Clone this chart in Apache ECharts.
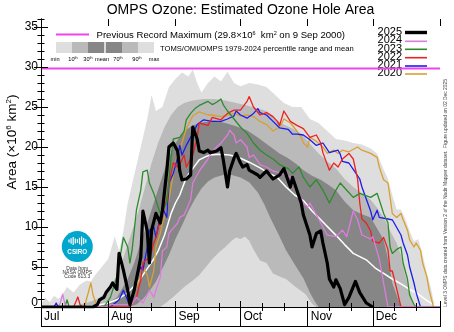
<!DOCTYPE html>
<html>
<head>
<meta charset="utf-8">
<script src="https://cdn.jsdelivr.net/npm/echarts@6/dist/echarts.min.js"></script>
<style>
  html, body { margin: 0; padding: 0; background: #fff; }
  #chart { width: 454px; height: 332px; }
</style>
</head>
<body>
<div id="chart"></div>
<script>
// Day 0 = 1 July; the season axis runs to 31 December.
const monthNames = ['Jul', 'Aug', 'Sep', 'Oct', 'Nov', 'Dec'];
const monthStartDays = [0, 31, 62, 92, 123, 153];
const seasonEndDay = 184;
const yTickValues = [0, 5, 10, 15, 20, 25, 30, 35];
const recordMax = 29.8; // 9 Sep 2000

// TOMS/OMI/OMPS 1979-2024 climatology, [day, area in 10^6 km^2]
const bandMax = [[0,0.3],[2,1.2],[4,0.6],[6,1.4],[8,1],[10,1.6],[12,2.5],[15,1.8],[18,2.8],[21,3.3],[23,3.2],[25,4],[28,5],[31,6],[34,8.8],[36,7],[38,9.5],[40,13],[43,16.5],[46,20],[49,23.5],[51,26.5],[53,24.5],[56,25],[59,27.5],[62,28.5],[65,29.3],[68,28.8],[70,29.7],[72,28],[74,26.8],[77,28],[80,28.8],[83,28.2],[86,29.4],[89,28],[92,27.6],[96,28],[100,27.8],[104,27.5],[108,26.5],[112,25.5],[116,25],[120,25],[124,23.5],[128,23],[132,22],[136,21],[140,20.8],[144,20.5],[148,20.3],[152,19.8],[155,19.2],[158,17.2],[160,16],[162,14],[164,12.2],[166,12.2],[168,11],[170,9.5],[172,8.2],[174,8.5],[176,6.5],[178,4.2],[180,2.2],[181,0.8],[182,0],[184,0]];
const band90 = [[14,0],[18,0.3],[22,0.6],[26,1],[30,1.8],[33,3],[36,4.5],[39,7],[42,9.5],[45,12],[48,15],[51,18],[54,20.5],[57,22.5],[60,24],[63,25],[66,25.5],[70,25.8],[75,26],[80,26],[85,25.8],[90,25.5],[95,25.2],[100,24.8],[104,24.5],[108,23.5],[112,22.8],[116,22.3],[120,21.7],[124,20.4],[128,19.2],[132,18.2],[136,17.3],[140,16],[144,15],[148,14.2],[152,13.4],[155,12.4],[158,11.2],[161,9.5],[164,8],[166,6.5],[168,4],[170,2],[172,0],[184,0]];
const band70 = [[25,0],[30,0.4],[35,1.2],[40,3.5],[43,5.5],[46,8],[49,10.5],[52,13],[55,15.5],[58,18],[61,20],[64,21.3],[67,22.2],[70,22.7],[75,23.1],[80,23.3],[85,23],[90,22.6],[95,22.1],[100,21.2],[105,20.2],[110,19.2],[114,18.6],[118,17.8],[121,17.1],[125,16.4],[129,15.9],[133,15.2],[136,14.6],[140,13.2],[144,12.1],[148,11.6],[152,11.2],[155,9.8],[158,8.4],[160,6],[162,3],[164,1.5],[166,0],[184,0]];
const band30 = [[40,0],[44,0.3],[47,1],[50,2],[53,3.2],[56,4.8],[59,6.5],[62,8.5],[65,10.2],[68,12],[71,13.5],[74,14.8],[77,15.7],[80,16.2],[84,16.5],[88,16.5],[92,16.2],[96,15.6],[100,14.3],[103,12.8],[106,11],[110,8.8],[113,7.1],[117,5.3],[121,3.6],[124,1.8],[126,0.8],[128,0],[184,0]];
const band10 = [[55,0],[58,0.6],[62,1.5],[66,2.5],[70,3.3],[73,4],[76,5],[79,6],[82,6.8],[85,7.5],[88,8.3],[90,8.7],[92,8.5],[94,8.8],[96,8.3],[98,7.2],[101,5.8],[104,5.5],[107,4.2],[110,3.8],[113,3.5],[117,2.6],[120,2],[122,1.6],[125,0.4],[127,0],[184,0]];
const climMean = [[0,0],[10,0.05],[20,0.1],[25,0.2],[30,0.4],[35,0.9],[40,1.8],[45,3.2],[50,5.2],[52,6],[54,7],[57,9],[60,11.7],[62,13],[64,14],[67,16.2],[70,17.3],[73,18.4],[76,18.8],[78,19],[82,19.1],[87,19],[92,18.6],[96,18.1],[101,17.4],[104,16.9],[106,16.6],[109,16.2],[113,15],[117,14],[121,13.3],[125,12],[129,10.9],[133,9.8],[137,8.7],[140,7.8],[144,6.7],[147,6.3],[150,5.9],[154,4.9],[158,4.2],[162,3.5],[166,2.9],[170,2.2],[174,1.6],[178,0.8],[181,0.3],[184,0.1]];

// Individual seasons, [day, area in 10^6 km^2]
const year2025 = [[0,0],[5,0],[10,0],[15,0],[20,0],[24,0],[26,0.3],[27,0.9],[29,1.2],[30,1.8],[32,2.5],[33,3],[35,2.2],[36,6.7],[38,4.6],[40,2.1],[41,0.3],[43,2.1],[46,6.2],[47,12],[49,9.5],[50,5.5],[51,9.6],[53,11.7],[55,10.5],[56,12.1],[58,17],[59,20],[61,20.5],[63,19.5],[64,17],[65,15.9],[67,16],[69,16.5],[70,22.5],[72,21],[73,19.5],[75,19.3],[77,19.6],[78,19.3],[81,19.5],[83,19.9],[84,18.5],[86,15],[87,17],[89,18.6],[90,19.2],[92,18],[93,17.5],[95,17.8],[96,17.1],[100,16.5],[101,16.2],[104,17],[107,16],[110,16.5],[112,17.3],[115,15],[116,16.2],[118,14.6],[120,13],[121,11.5],[124,9],[125,7.5],[127,9.2],[129,9.5],[130,8],[132,5.5],[133,3.5],[135,2.5],[136,3.4],[138,2.3],[140,0.3],[142,1.2],[145,3.2],[147,1.8],[150,0.5],[153,0]];
const year2024 = [[0,0],[8,0],[9,0.6],[10,1.6],[11,0.4],[12,0],[30,0],[32,0.3],[40,0.3],[42,0.4],[44,1.2],[47,0.5],[50,2.1],[52,1.2],[53,2.1],[55,3.7],[56,7],[58,7.5],[59,9.2],[63,10.5],[64,11.2],[66,11.5],[69,13.4],[70,15.5],[73,17],[77,18.5],[79,19.5],[83,20.5],[86,21.5],[87,22.1],[89,21.5],[90,20.5],[92,20.9],[95,20],[96,18.7],[98,19],[101,17.8],[104,17.5],[107,17],[110,16.8],[113,16.5],[115,16.2],[118,14.6],[121,13],[123,12.5],[124,13],[125,12.5],[129,10.5],[132,9],[136,8.8],[139,9.6],[141,8.8],[144,12],[146,10.9],[148,9],[152,8.5],[153,8.8],[156,6],[158,3],[160,0],[184,0]];
const year2023 = [[0,0],[11,0],[12,0.9],[13,0],[29,0],[32,1.2],[35,3.8],[38,8.7],[40,7.5],[41,5.5],[42,7.1],[44,12.1],[46,14.6],[47,16.9],[49,17.1],[50,15.5],[52,14.2],[54,12.5],[55,11.7],[56,12.1],[58,13],[60,18.7],[61,21],[64,21.2],[66,22],[67,23.4],[69,24.2],[71,24.8],[73,25.2],[77,25.7],[79,25.3],[81,25.6],[83,26],[84,25.3],[86,24.5],[89,23.5],[92,22.5],[95,21.7],[98,20.5],[101,19.6],[104,19],[107,18.5],[110,17.8],[114,17.3],[116,16.7],[119,17.5],[121,16.2],[124,15],[127,15.9],[130,14.6],[133,13],[136,14.6],[138,15.5],[141,14.6],[144,13.7],[147,14.2],[152,13.7],[155,14.2],[156,13.4],[158,11.7],[160,10.5],[161,7.5],[162,6.7],[164,7.2],[166,7.5],[167,5.5],[169,3.5],[170,1.5],[172,0.3],[173,0],[184,0]];
const year2022 = [[0,0],[15,0],[16,0.6],[17,1.25],[18,0.3],[19,0],[41,0],[44,1.2],[46,3.4],[47,5.5],[49,6],[50,5.9],[52,8],[53,8.7],[55,10.9],[56,12],[58,13.4],[59,15.5],[61,18],[63,17.5],[64,17.8],[66,19],[67,17.5],[70,19],[72,21.2],[73,23],[77,22.7],[79,23.7],[83,23.4],[86,24.2],[89,24.6],[92,24.6],[95,25.7],[96,26.3],[98,25],[101,24],[104,24.3],[107,23.8],[109,23.2],[110,22.7],[112,24.5],[115,23.2],[118,22.7],[121,22.3],[124,21.2],[127,21.5],[129,20.5],[130,19.3],[132,17.8],[133,17.1],[135,18],[137,17.5],[139,18.5],[142,19.2],[144,18.5],[146,16],[147,13],[148,11],[150,10.5],[152,9.5],[153,8.2],[156,8],[158,8.7],[160,7.2],[161,4.5],[162,4.5],[164,2.3],[166,0],[184,0]];
const year2021 = [[0,0],[6,0],[7,0.5],[8,0],[32,0],[36,0.9],[38,2.1],[40,0.8],[41,0],[42,1.2],[44,3.7],[46,5],[47,4.6],[49,7.5],[50,9.6],[52,10],[53,8.7],[55,11.2],[56,12.5],[58,11.2],[59,15.5],[61,16.7],[63,18.7],[64,20.2],[65,19],[67,20.2],[70,21.7],[72,22.8],[75,23.4],[79,23.2],[83,23.2],[86,23.5],[89,23.9],[90,24.5],[92,24],[95,23.6],[98,24.2],[100,24.8],[101,24.3],[104,24],[107,23.2],[110,22.4],[114,22.2],[116,21.6],[118,21.6],[121,21.5],[124,20.9],[127,20.2],[130,20.5],[133,19.3],[137,19.6],[138,19.1],[139,18.2],[142,18],[144,17.2],[147,16],[148,15],[150,13.5],[152,12],[153,10.9],[155,12.1],[156,11.2],[160,11],[162,10.9],[166,9],[167,8],[169,6.5],[170,5],[172,3],[173,1.8],[175,0],[184,0]];
const year2020 = [[0,0],[20,0],[22,2],[23,3],[24,1.5],[26,0],[41,0],[42,0.9],[44,2.5],[46,3.7],[47,5],[49,4],[50,2.5],[52,4.5],[53,7.5],[55,9.2],[56,10.5],[58,12.1],[59,13.4],[61,16.7],[63,19.2],[64,19.5],[65,20.5],[67,22.3],[70,23.9],[73,24.4],[77,24],[79,24],[83,23.8],[86,24],[89,24.2],[92,23.9],[95,24],[98,23.8],[101,23.2],[104,22.8],[107,22],[110,22.5],[112,23.5],[115,23],[118,22],[120,21.2],[121,20.5],[123,20],[124,21.2],[127,20.7],[130,20],[132,19.2],[135,19.6],[137,19.2],[139,19.6],[142,19.4],[146,20],[148,19.6],[152,19.2],[155,18.7],[156,17.5],[158,15.9],[160,15.5],[161,13.7],[162,11.7],[164,11.2],[166,11.7],[167,10.9],[169,9.6],[170,8.4],[172,7.5],[173,8],[175,7.1],[176,5.5],[178,3.7],[179,2.1],[181,0],[184,0]];

const seasons = [
  { name: '2025', data: year2025, color: '#000000', width: 3.2 },
  { name: '2024', data: year2024, color: '#dd7ddd', width: 1.3 },
  { name: '2023', data: year2023, color: '#2c8c2c', width: 1.3 },
  { name: '2022', data: year2022, color: '#ee2020', width: 1.3 },
  { name: '2021', data: year2021, color: '#1c1cee', width: 1.3 },
  { name: '2020', data: year2020, color: '#d9a030', width: 1.3 }
];

const FONT = '"Liberation Sans", Arial, Helvetica, sans-serif';
const SHADE_OUTER = '#dedede';
const SHADE_MID = '#bababa';
const SHADE_INNER = '#868686';
const RECORD_COLOR = '#ee44ee';

// plot frame (pixels)
const G = { left: 41, top: 19, width: 399, height: 288 };
const boxDepth = 20;

// tick positions: 1st, 11th and 21st of each month
const tenDayTicks = [];
monthStartDays.forEach(s => tenDayTicks.push(s, s + 10, s + 20));
tenDayTicks.push(seasonEndDay);
const monthEdges = monthStartDays.concat([seasonEndDay]);
const unitTicks = [];
for (let v = 0; v <= 36; v++) unitTicks.push(v);

const chart = echarts.init(document.getElementById('chart'), null, { renderer: 'canvas' });

function band(data, color) {
  return {
    type: 'line', data, symbol: 'none', silent: true, animation: false,
    lineStyle: { width: 0, opacity: 0 },
    areaStyle: { color, opacity: 1 }
  };
}

const black = { color: '#000', width: 1 };
function xAx(position, opts) {
  return Object.assign({
    type: 'value', position, min: 0, max: seasonEndDay, z: 10,
    axisLine: { show: false },
    axisTick: { show: false },
    axisLabel: { show: false },
    splitLine: { show: false }
  }, opts);
}
function yAx(position, opts) {
  return Object.assign({
    type: 'value', position, min: 0, max: 36, z: 10,
    axisLine: { show: false },
    axisTick: { show: false },
    axisLabel: { show: false },
    splitLine: { show: false }
  }, opts);
}

const series = [
  band(bandMax, SHADE_OUTER),
  band(band90, SHADE_MID),
  band(band70, SHADE_INNER),
  band(band30, SHADE_MID),
  band(band10, SHADE_OUTER),
  {
    type: 'line', data: climMean, symbol: 'none', silent: true, animation: false,
    lineStyle: { color: '#ffffff', width: 1.5 }
  }
];
seasons.slice().reverse().forEach(s => {
  series.push({
    type: 'line', name: s.name, data: s.data, symbol: 'none', silent: true, animation: false,
    lineStyle: { color: s.color, width: s.width, join: 'round' }
  });
});
series.push({
  type: 'line', data: [[0, recordMax], [seasonEndDay, recordMax]], symbol: 'none',
  silent: true, animation: false, lineStyle: { color: RECORD_COLOR, width: 2 }
});

// legend and annotation graphics
const graphics = [];
const txt = (x, y, text, size, extra) => graphics.push({
  type: 'text', x, y, silent: true,
  style: Object.assign({ text, fontFamily: FONT, fontSize: size, fill: '#000', align: 'left', verticalAlign: 'middle' }, extra || {})
});

// title
txt(240.5, 10.5, 'OMPS Ozone: Estimated Ozone Hole Area', 14, { align: 'center' });

// y-axis title
graphics.push({
  type: 'text', x: 12, y: 142, rotation: Math.PI / 2, silent: true,
  style: {
    text: 'Area (×10{s|6} km{s|2})', fontFamily: FONT, fontSize: 13.5, fill: '#000',
    align: 'center', verticalAlign: 'middle',
    rich: { s: { fontSize: 8, fontFamily: FONT, verticalAlign: 'top', fill: '#000' } }
  }
});

// record maximum key
graphics.push({ type: 'line', silent: true, shape: { x1: 56, y1: 34.5, x2: 89, y2: 34.5 }, style: { stroke: RECORD_COLOR, lineWidth: 2 } });
txt(96.5, 35, 'Previous Record Maximum (29.8×10{s|6}  km{s|2} on 9 Sep 2000)', 9.6, {
  rich: { s: { fontSize: 5.5, fontFamily: FONT, verticalAlign: 'top', fill: '#000' } }
});

// percentile key
const keyBoxes = [[56, 72, SHADE_OUTER], [72, 88, SHADE_MID], [88, 104.3, SHADE_INNER], [105.7, 122, SHADE_INNER], [122, 138, SHADE_MID], [138, 154, SHADE_OUTER]];
keyBoxes.forEach(b => graphics.push({ type: 'rect', silent: true, shape: { x: b[0], y: 42, width: b[1] - b[0], height: 11 }, style: { fill: b[2] } }));
const keyLabels = [[55, 'min'], [73, '10{s|th}'], [88, '30{s|th}'], [102, 'mean'], [118, '70{s|th}'], [137, '90{s|th}'], [154, 'max']];
keyLabels.forEach(l => txt(l[0], 59, l[1], 5.6, {
  align: 'center',
  rich: { s: { fontSize: 3.8, fontFamily: FONT, verticalAlign: 'top', fill: '#000' } }
}));
txt(160, 49, 'TOMS/OMI/OMPS 1979-2024 percentile range and mean', 7.6);

// season key
const keyRowsText = [32.3, 40.4, 48.6, 56.9, 65.1, 73.2];
const keyRowsLine = [32.5, 41.3, 49.3, 57.7, 66, 74];
seasons.forEach((s, i) => {
  txt(402, keyRowsText[i], s.name, 11, { align: 'right' });
  graphics.push({
    type: 'line', silent: true,
    shape: { x1: 405, y1: keyRowsLine[i], x2: 427, y2: keyRowsLine[i] },
    style: { stroke: s.color, lineWidth: i === 0 ? 3.4 : 1.6 }
  });
});

// month label box bottom edge
graphics.push({
  type: 'line', silent: true,
  shape: { x1: G.left, y1: G.top + G.height + boxDepth - 0.5, x2: G.left + G.width, y2: G.top + G.height + boxDepth - 0.5 },
  style: { stroke: '#000', lineWidth: 1 }
});

// CSIRO badge
graphics.push({ type: 'circle', silent: true, shape: { cx: 77.3, cy: 246.6, r: 15.5 }, style: { fill: '#00a6cc' } });
const waveBars = [3, 5.5, 8, 5, 3.5, 6.5, 9, 6, 3.5];
waveBars.forEach((h, i) => graphics.push({
  type: 'rect', silent: true,
  shape: { x: 68.4 + i * 2.1, y: 241 - h / 2, width: 1.2, height: h },
  style: { fill: '#ffffff' }
}));
txt(77.3, 252.6, 'CSIRO', 6.3, { align: 'center', fill: '#ffffff', fontWeight: 'bold' });
txt(77.3, 268.3, 'Data from', 5, { align: 'center', fill: '#333' });
txt(77.3, 272.6, 'NASA OMPS', 5, { align: 'center', fill: '#333' });
txt(77.3, 276.9, 'Code 613.3', 5, { align: 'center', fill: '#333' });

// data note along the right edge
graphics.push({
  type: 'text', x: 446, y: 193, rotation: Math.PI / 2, silent: true,
  style: {
    text: 'Level 3 OMPS data created from Version 2 of the Nadir Mapper dataset.  Figure updated on 02 Dec 2025',
    fontFamily: FONT, fontSize: 4.9, fill: '#444', align: 'center', verticalAlign: 'middle'
  }
});

const option = {
  animation: false,
  backgroundColor: '#ffffff',
  grid: { left: G.left, top: G.top, width: G.width, height: G.height },
  xAxis: [
    xAx('bottom', {
      axisLine: { show: true, lineStyle: black },
      axisTick: { show: true, inside: true, length: 4, customValues: tenDayTicks, lineStyle: black },
      axisLabel: {
        show: true, customValues: monthStartDays, align: 'left', margin: 4,
        padding: [0, 0, 0, 3], fontFamily: FONT, fontSize: 12, color: '#000',
        formatter: v => monthNames[monthStartDays.indexOf(v)]
      }
    }),
    xAx('bottom', { axisTick: { show: true, inside: false, length: boxDepth, customValues: monthEdges, lineStyle: black } }),
    xAx('bottom', { axisTick: { show: true, inside: true, length: 6, customValues: monthEdges, lineStyle: black } }),
    xAx('top', {
      axisLine: { show: true, lineStyle: black },
      axisTick: { show: true, inside: true, length: 4, customValues: tenDayTicks, lineStyle: black }
    }),
    xAx('top', { axisTick: { show: true, inside: true, length: 7, customValues: monthEdges, lineStyle: black } })
  ],
  yAxis: [
    yAx('left', {
      axisLine: { show: true, lineStyle: black },
      axisTick: { show: true, inside: true, length: 7, customValues: yTickValues, lineStyle: black },
      axisLabel: {
        show: true, customValues: yTickValues, margin: 3, fontFamily: FONT, fontSize: 12, color: '#000',
        formatter: v => (v === 0 ? '{z|0}' : String(v)),
        rich: { z: { fontFamily: FONT, fontSize: 12, color: '#000', padding: [0, 0, 8, 0] } }
      }
    }),
    yAx('left', { axisTick: { show: true, inside: true, length: 3.5, customValues: unitTicks, lineStyle: black } }),
    yAx('right', {
      axisLine: { show: true, lineStyle: black },
      axisTick: { show: true, inside: true, length: 7, customValues: yTickValues, lineStyle: black }
    }),
    yAx('right', { axisTick: { show: true, inside: true, length: 3.5, customValues: unitTicks, lineStyle: black } })
  ],
  series,
  graphic: graphics
};

chart.setOption(option);
</script>
</body>
</html>
